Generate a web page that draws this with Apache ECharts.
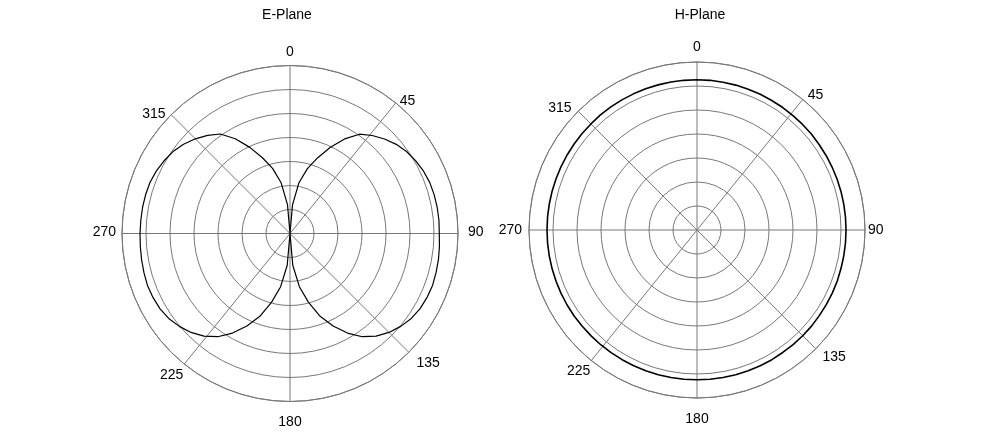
<!DOCTYPE html>
<html>
<head>
<meta charset="utf-8">
<script src="https://cdn.jsdelivr.net/npm/echarts@6/dist/echarts.min.js"></script>
<style>
html,body{margin:0;padding:0;background:#fff;}
#chart{width:982px;height:440px;}
</style>
</head>
<body>
<div id="chart"></div>
<script>
// Chart titles
const plotTitles = ['E-Plane', 'H-Plane'];

// Angle grid: tick positions (degrees, as drawn in the reference) and their labels
const angleTickValues = [0, 39, 90, 135, 180, 219, 270, 315];
const angleTickLabels = ['0', '45', '90', '135', '180', '225', '270', '315'];

// Sample angles (degrees), 5-degree steps from 0 to 360
const sampleAngles = [0,5,10,15,20,25,30,35,40,45,50,55,60,65,70,75,80,85,90,
  95,100,105,110,115,120,125,130,135,140,145,150,155,160,165,170,175,180,
  185,190,195,200,205,210,215,220,225,230,235,240,245,250,255,260,265,270,
  275,280,285,290,295,300,305,310,315,320,325,330,335,340,345,350,355,360];

// E-Plane pattern radius (ring units)
const ePlane = [0,1.20,2.15,2.80,3.35,3.95,4.55,5.05,5.33,5.57,5.78,5.94,6.05,6.14,6.20,6.22,6.23,6.23,6.22,
  6.25,6.28,6.30,6.32,6.30,6.26,6.17,6.02,5.83,5.58,5.25,4.79,4.25,3.67,2.96,2.25,1.33,0,
  1.33,2.25,2.96,3.67,4.25,4.79,5.25,5.58,5.83,6.02,6.17,6.26,6.30,6.32,6.30,6.28,6.26,6.25,
  6.24,6.24,6.23,6.21,6.15,6.06,5.95,5.79,5.58,5.34,5.06,4.56,3.96,3.36,2.81,2.16,1.21,0];

// H-Plane pattern radius (ring units)
const hPlane = [6.26,6.26,6.25,6.25,6.24,6.24,6.23,6.23,6.22,6.22,6.22,6.21,6.21,6.21,6.21,6.21,6.21,6.21,6.21,
  6.21,6.21,6.21,6.22,6.22,6.22,6.22,6.23,6.23,6.23,6.23,6.24,6.24,6.24,6.24,6.24,6.24,6.24,
  6.24,6.24,6.24,6.24,6.24,6.24,6.24,6.24,6.24,6.24,6.25,6.25,6.25,6.25,6.25,6.25,6.25,6.25,
  6.25,6.25,6.25,6.25,6.25,6.25,6.25,6.25,6.25,6.26,6.26,6.26,6.26,6.26,6.26,6.26,6.26,6.26];

// ---- layout / style ----
const gridColor = '#787878';
const fontFam = '"Liberation Sans", Arial, sans-serif';
const polarLayout = [
  { center: [290, 233.5], radius: 168 },
  { center: [697, 230], radius: 168 }
];
// fine label nudges [dx, dy] in px, per tick, per plot
const labelNudge = [
  [[0,-5],[-1,4],[2,-1],[2,5],[0,13],[4,5],[2,-1],[0,5]],
  [[0,-7],[0,2],[-5,0],[1,3],[0,13],[4,4],[1,0],[-1,3]]
];

function pairs(vals) {
  return vals.map((v, i) => [v, sampleAngles[i]]);
}

function buildRich(idx) {
  const rich = {};
  angleTickValues.forEach((a, i) => {
    const s = Math.sin(a * Math.PI / 180);
    const align = Math.abs(s) < 0.3 ? 'center' : (s > 0 ? 'left' : 'right');
    const dx = labelNudge[idx][i][0], dy = labelNudge[idx][i][1];
    const p = [0, 0, 0, 0];
    if (align === 'left') p[3] = dx;
    else if (align === 'right') p[1] = -dx;
    else { if (dx > 0) p[3] = 2 * dx; else p[1] = -2 * dx; }
    if (dy > 0) p[0] = 2 * dy; else p[2] = -2 * dy;
    rich['k' + i] = { fontSize: 14, fontFamily: fontFam, color: '#000', lineHeight: 0, padding: p };
  });
  return rich;
}

function angleAxisFor(idx) {
  return {
    polarIndex: idx,
    type: 'value',
    min: 0,
    max: 360,
    startAngle: 90,
    clockwise: true,
    axisLine: { show: true, lineStyle: { color: gridColor, width: 1 } },
    axisTick: { show: false, customValues: angleTickValues },
    axisLabel: {
      customValues: angleTickValues,
      margin: 8,
      color: '#000',
      fontSize: 14,
      fontFamily: fontFam,
      formatter: function (v) {
        const k = angleTickValues.indexOf(Number(v));
        return k >= 0 ? '{k' + k + '|' + angleTickLabels[k] + '}' : '';
      },
      rich: buildRich(idx)
    },
    splitLine: { show: true, lineStyle: { color: gridColor, width: 1 } }
  };
}

function radiusAxisFor(idx) {
  return {
    polarIndex: idx,
    type: 'value',
    min: 0,
    max: 7,
    interval: 1,
    axisLine: { show: false },
    axisTick: { show: false },
    axisLabel: { show: false },
    splitLine: { show: true, lineStyle: { color: gridColor, width: 1 } }
  };
}

const chart = echarts.init(document.getElementById('chart'), null, { renderer: 'canvas' });
chart.setOption({
  animation: false,
  backgroundColor: '#fff',
  title: [
    { text: plotTitles[0], left: 287, top: 8, textAlign: 'center', padding: 0,
      textStyle: { fontSize: 14, fontWeight: 'normal', color: '#000', fontFamily: fontFam } },
    { text: plotTitles[1], left: 700, top: 8, textAlign: 'center', padding: 0,
      textStyle: { fontSize: 14, fontWeight: 'normal', color: '#000', fontFamily: fontFam } }
  ],
  polar: polarLayout,
  angleAxis: [angleAxisFor(0), angleAxisFor(1)],
  radiusAxis: [radiusAxisFor(0), radiusAxisFor(1)],
  series: [
    { name: plotTitles[0], type: 'line', coordinateSystem: 'polar', polarIndex: 0,
      data: pairs(ePlane), showSymbol: false, symbol: 'none', silent: true,
      lineStyle: { color: '#000', width: 1.2 } },
    { name: plotTitles[1], type: 'line', coordinateSystem: 'polar', polarIndex: 1,
      data: pairs(hPlane), showSymbol: false, symbol: 'none', silent: true,
      lineStyle: { color: '#000', width: 1.6 } }
  ]
});
</script>
</body>
</html>
